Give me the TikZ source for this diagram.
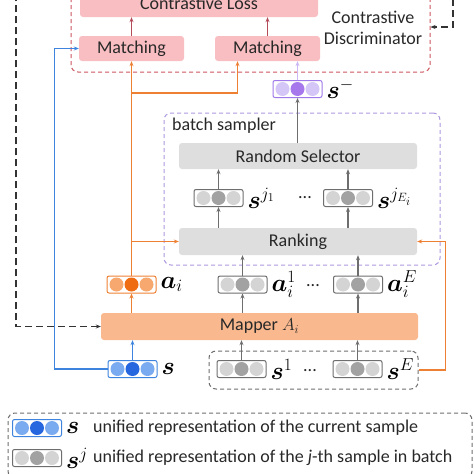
\documentclass[tikz,border=0pt]{standalone}
\usepackage{amsmath, amssymb}
\usepackage{fontspec}
\setmainfont{Carlito}
\usetikzlibrary{arrows.meta, positioning, calc}

\definecolor{pinkfill}{RGB}{249,190,194}
\definecolor{discred}{RGB}{205,85,95}
\definecolor{lossarr}{RGB}{180,75,90}
\definecolor{grayfill}{RGB}{222,222,222}
\definecolor{mapfill}{RGB}{249,184,142}
\definecolor{orline}{RGB}{238,128,52}
\definecolor{orlight}{RGB}{246,168,110}
\definecolor{ordark}{RGB}{240,108,18}
\definecolor{blline}{RGB}{62,132,222}
\definecolor{bllight}{RGB}{122,170,240}
\definecolor{bldark}{RGB}{38,102,222}
\definecolor{gyline}{RGB}{110,110,110}
\definecolor{gylight}{RGB}{212,212,212}
\definecolor{gydark}{RGB}{162,162,162}
\definecolor{puline}{RGB}{160,122,232}
\definecolor{pulight}{RGB}{212,198,246}
\definecolor{pudark}{RGB}{166,120,236}
\definecolor{pudash}{RGB}{172,152,222}
\definecolor{txt}{RGB}{40,40,40}

% vector of three dots: name, position, border, light, dark
\newcommand{\embvec}[5]{%
  \node[vecbox, draw=#3] (#1) at (#2) {};
  \fill[#4] ($(#1)+(-15,0)$) circle (7pt);
  \fill[#5] (#1) circle (7pt);
  \fill[#4] ($(#1)+(15,0)$) circle (7pt);
}

\begin{document}
\begin{tikzpicture}[x=1pt, y=-1pt, font=\fontsize{18}{21}\selectfont, text=txt,
    pinkbox/.style={rounded corners=3pt, inner sep=0pt, fill=pinkfill, minimum width=105pt, minimum height=25pt},
    graybox/.style={rounded corners=3pt, inner sep=0pt, fill=grayfill, minimum width=238pt, minimum height=26pt},
    vecbox/.style={rounded corners=2pt, line width=1pt, fill=white, minimum width=49pt, minimum height=17pt, inner sep=0pt},
    dframe/.style={rounded corners=7pt, line width=1pt, dash pattern=on 4pt off 3pt, inner sep=0pt},
    arr/.style={-{Stealth[length=5pt, width=4pt]}, line width=1.1pt},
    lab/.style={right=4pt of #1, inner sep=0pt, font=\fontsize{23}{25}\selectfont, text=black}]
    \useasboundingbox (0,0) rectangle (474,474);

    % Frames
    \node[dframe, draw=discred, minimum width=359pt, minimum height=82pt] (disc) at (250.5,31) {};
    \node[dframe, draw=pudash, minimum width=276pt, minimum height=152pt] (sampler) at (302,189) {};
    \node[dframe, draw=gyline, minimum width=209pt, minimum height=38pt] (sbatch) at (313.5,370) {};
    \node[dframe, draw=gyline, minimum width=464pt, minimum height=65pt] (legend) at (240,445.5) {};

    % Contrastive discriminator
    \node[pinkbox, minimum width=238pt, minimum height=28pt] (closs) at (199,3) {Contrastive Loss};
    \node[pinkbox] (match1) at (131.5,48.5) {Matching};
    \node[pinkbox] (match2) at (267.5,48.5) {Matching};
    \node[align=center, inner sep=0pt] (disclab) at (373,28) {Contrastive\\Discriminator};

    % Batch sampler
    \node[anchor=west, inner sep=0pt] (samplab) at (172,126) {batch sampler};
    \node[graybox] (selector) at (298,156) {Random Selector};
    \node[graybox, minimum height=27pt] (ranking) at (298,241.5) {Ranking};
    \embvec{sj1}{218.5,198}{gyline}{gylight}{gydark}
    \embvec{sjE}{348,198}{gyline}{gylight}{gydark}
    \node[lab=sj1] (sj1lab) {$\boldsymbol{s}^{j_1}$};
    \node[lab=sjE] (sjElab) {$\boldsymbol{s}^{j_{E_i}}$};
    \node[inner sep=0pt] (dots1) at (305,198) {...};

    % Negative sample
    \embvec{sneg}{297.5,89}{puline}{pulight}{pudark}
    \node[lab=sneg] (sneglab) {$\boldsymbol{s}^{-}$};

    % Mapper and outputs
    \node[rounded corners=3pt, inner sep=0pt, fill=mapfill, minimum width=317pt, minimum height=27pt] (mapper) at (259.5,326.5) {Mapper $A_i$};
    \embvec{ai}{131.5,284.5}{orline}{orlight}{ordark}
    \embvec{ai1}{242.5,284.5}{gyline}{gylight}{gydark}
    \embvec{aiE}{358,284.5}{gyline}{gylight}{gydark}
    \node[lab=ai] (ailab) {$\boldsymbol{a}_i$};
    \node[lab=ai1] (ai1lab) {$\boldsymbol{a}_i^1$};
    \node[lab=aiE] (aiElab) {$\boldsymbol{a}_i^E$};
    \node[inner sep=0pt] (dots2) at (313,286) {...};

    % Inputs
    \embvec{s}{132.5,369}{blline}{bllight}{bldark}
    \embvec{s1}{241.5,369}{gyline}{gylight}{gydark}
    \embvec{sE}{357.5,369}{gyline}{gylight}{gydark}
    \node[lab=s] (slab) {$\boldsymbol{s}$};
    \node[lab=s1] (s1lab) {$\boldsymbol{s}^1$};
    \node[lab=sE] (sElab) {$\boldsymbol{s}^E$};
    \node[inner sep=0pt] (dots3) at (310,371) {...};

    % Legend
    \embvec{leg1}{37,428}{blline}{bllight}{bldark}
    \embvec{leg2}{37,458}{gyline}{gylight}{gydark}
    \node[lab=leg1] (leg1s) {$\boldsymbol{s}$};
    \node[lab=leg2] (leg2s) {$\boldsymbol{s}^{j}$};
    \node[anchor=west, inner sep=0pt] (leg1txt) at (93,428) {unified representation of the current sample};
    \node[anchor=west, inner sep=0pt] (leg2txt) at (93,458) {unified representation of the \textit{j}-th sample in batch};

    % Helper points
    \coordinate (obr) at (131.5,93);
    \coordinate (m2in) at ($(match2.south)+(-30,0)$);
    \coordinate (fbtop) at (453,-12);
    \coordinate (fbr) at (453,27);

    % Gray arrows
    \foreach \v in {s1, sE} \draw[arr, gyline] (\v.north) -- (\v |- mapper.south);
    \foreach \v in {ai1, aiE} {
        \draw[arr, gyline] (\v |- mapper.north) -- (\v.south);
        \draw[arr, gyline] (\v.north) -- (\v |- ranking.south);
    }
    \foreach \v in {sj1, sjE} {
        \draw[arr, gyline] (\v |- ranking.north) -- (\v.south);
        \draw[arr, gyline] (\v.north) -- (\v |- selector.south);
    }
    \draw[arr, gyline] (selector.north -| sneg) -- (sneg.south);
    \draw[arr, pulight!80!puline] (sneg.north) -- (sneg |- match2.south);

    % Loss arrows
    \foreach \v in {match1, match2} \draw[arr, lossarr] (\v.north) -- (\v |- closs.south);

    % Orange arrows
    \draw[arr, orline] (mapper.north -| ai) -- (ai.south);
    \draw[arr, orline] (ai.north) -- (match1.south);
    \draw[arr, orline] (obr) -| (m2in);
    \draw[arr, orline] (ai.north |- ranking.west) -- (ranking.west);
    \draw[arr, orline] (sbatch.east) -- ++(27,0) |- (ranking.east);

    % Blue arrows
    \draw[arr, blline] (s.north) -- (s |- mapper.south);
    \draw[arr, blline] (s.west) -- ++(-53,0) |- (match1.west);

    % Feedback
    \draw[arr, {Stealth[length=5pt, width=4pt]}-{Stealth[length=5pt, width=4pt]}, black!80, line width=1.4pt, dash pattern=on 7pt off 4pt]
        (mapper.west) -- ++(-85,0) |- (fbtop) -- (fbr) -- (fbr -| disc.east);
\end{tikzpicture}
\end{document}
